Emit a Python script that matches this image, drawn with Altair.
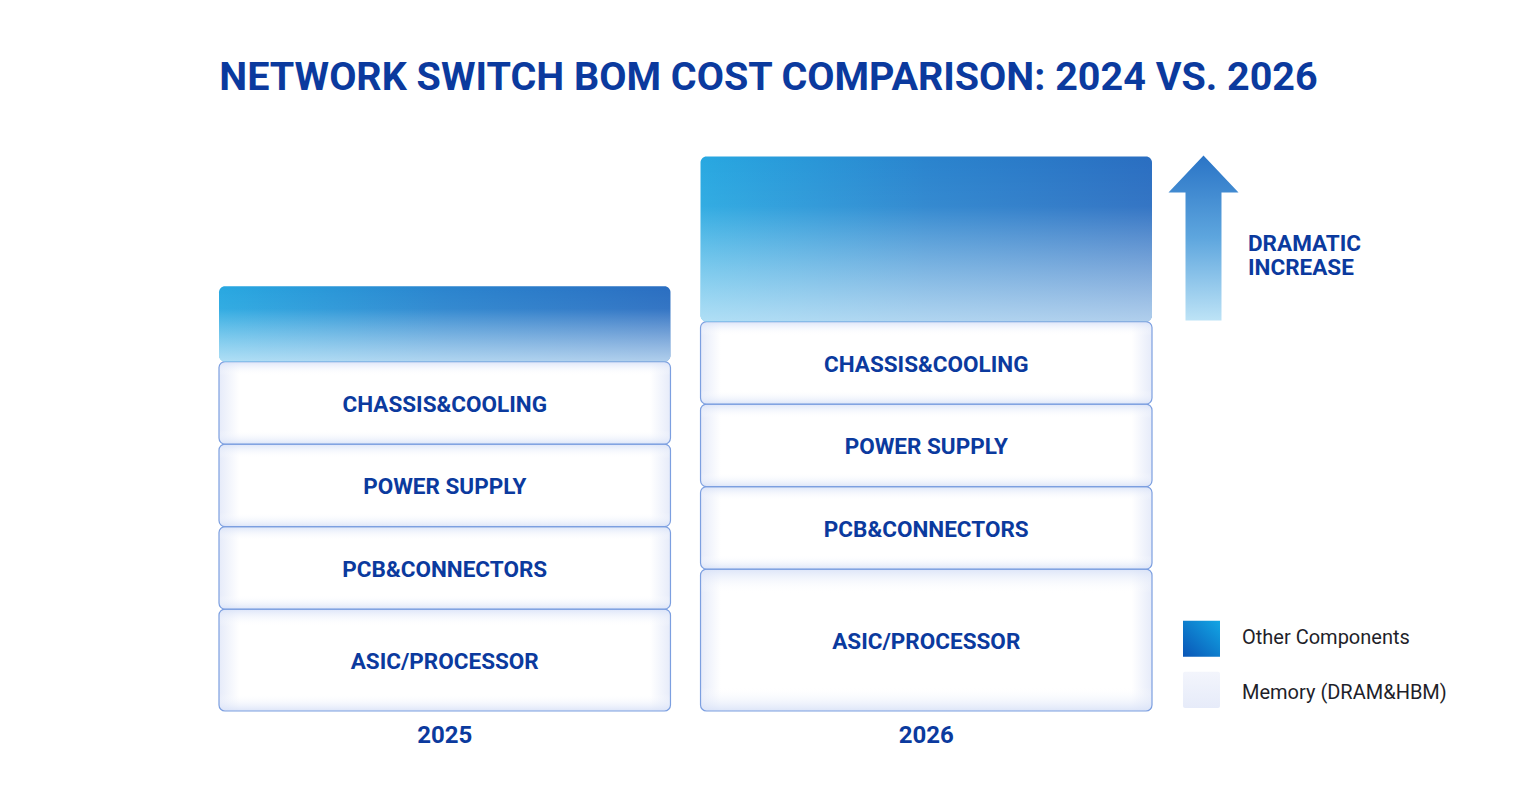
import altair as alt
import pandas as pd

# ---------------- data ----------------
years = ["2025", "2026"]
components = ["ASIC/PROCESSOR", "PCB&CONNECTORS", "POWER SUPPLY", "CHASSIS&COOLING", "OTHER"]
values_2025 = [24.7, 20, 20, 20, 18.3]
values_2026 = [34.4, 20, 20, 20, 40]
legend_labels = ["Other Components", "Memory (DRAM&HBM)"]
title_text = "NETWORK SWITCH BOM COST COMPARISON: 2024 VS. 2026"
arrow_label = ["DRAMATIC", "INCREASE"]

rows = []
for i, c in enumerate(components):
    rows.append({"year": years[0], "component": c, "value": values_2025[i], "order": i})
    rows.append({"year": years[1], "component": c, "value": values_2026[i], "order": i})
df = pd.DataFrame(rows)

# ---------------- style ----------------
BLUE = "#0b3a9e"
FONT = "Roboto"
PLOT_W = 933
PLOT_H = 603
PX_PER_UNIT = 4.125

y_scale = alt.Scale(domain=[0, PLOT_H / PX_PER_UNIT], nice=False, zero=True)
x_scale = alt.Scale(domain=years, paddingInner=0.0624, paddingOuter=0)
x_enc = alt.X(
    "year:N",
    scale=x_scale,
    axis=alt.Axis(title=None, domain=False, ticks=False, grid=False, labelAngle=0,
                  labelFont=FONT, labelFontSize=24, labelFontWeight="bold",
                  labelColor=BLUE, labelPadding=12),
)


def grad(x1, y1, x2, y2, stops):
    return alt.LinearGradient(
        gradient="linear", x1=x1, y1=y1, x2=x2, y2=y2,
        stops=[alt.GradientStop(offset=o, color=c) for o, c in stops],
    )


base = alt.Chart(df).transform_stack(
    stack="value", groupby=["year"],
    sort=[alt.SortField("order", order="ascending")], as_=["y0", "y1"],
).transform_calculate(ymid="(datum.y0 + datum.y1) / 2")

light = base.transform_filter("datum.component != 'OTHER'")
other = base.transform_filter("datum.component == 'OTHER'")

enc = dict(x=x_enc, y=alt.Y("y0:Q", scale=y_scale, axis=None), y2="y1:Q")

light_fill = light.mark_bar(
    cornerRadius=6,
    fill=grad(0, 0, 1, 0, [(0, "#e6ebf9"), (0.045, "#ffffff"), (0.955, "#ffffff"), (1, "#e6ebf9")]),
).encode(**enc)

light_overlay = light.mark_bar(
    cornerRadius=6, stroke="#7c9fe0", strokeWidth=1.2,
    fill=grad(0, 0, 0, 1, [(0, "rgba(214,224,247,0.85)"), (0.17, "rgba(255,255,255,0)"),
                           (0.83, "rgba(255,255,255,0)"), (1, "rgba(214,224,247,0.85)")]),
).encode(**enc)

other_fill = other.mark_bar(
    cornerRadius=6,
    fill=grad(0, 0, 1, 0, [(0, "#28a8e1"), (0.5, "#2a84ce"), (1, "#2a6ec1")]),
).encode(**enc)

other_overlay = other.mark_bar(
    cornerRadius=6,
    fill=grad(0, 0, 0, 1, [(0, "rgba(255,255,255,0)"), (0.3, "rgba(255,255,255,0.05)"),
                           (1, "rgba(228,244,253,0.72)")]),
).encode(**enc)

labels = light.mark_text(
    font=FONT, fontSize=22.5, fontWeight="bold", color=BLUE, baseline="middle", dy=2,
).encode(x=x_enc, y=alt.Y("ymid:Q", scale=y_scale, axis=None), text="component:N")

# ---------------- arrow + annotation ----------------
ARROW_PATH = ("M0,-2.357L1,-1.3L0.514,-1.3L0.514,2.357L-0.514,2.357"
              "L-0.514,-1.3L-1,-1.3Z")
one = pd.DataFrame({"k": [0]})
arrow = alt.Chart(one).mark_point(
    shape=ARROW_PATH, size=70 * 70, filled=True, opacity=1, strokeWidth=0,
    fill=grad(0, 0, 0, 1, [(0, "#2a74c6"), (0.5, "#5ea6de"), (1, "#bde3f6")]),
).encode(x=alt.value(984.5), y=alt.value(130))

arrow_text = alt.Chart(one).mark_text(
    font=FONT, fontSize=22.5, fontWeight="bold", color=BLUE, align="left",
    baseline="alphabetic", lineBreak="\n", lineHeight=23.5,
).encode(x=alt.value(1029), y=alt.value(143), text=alt.value("\n".join(arrow_label)))

# ---------------- legend ----------------
sw1 = alt.Chart(one).mark_rect(
    fill=grad(0, 1, 1, 0, [(0, "#0a55b6"), (1, "#12a6e4")]),
).encode(x=alt.value(964), x2=alt.value(1001), y=alt.value(512.7), y2=alt.value(548.7))

sw2 = alt.Chart(one).mark_rect(
    cornerRadius=2,
    fill=grad(0, 0, 0, 1, [(0, "#f3f5fc"), (1, "#e6ebf9")]),
).encode(x=alt.value(964), x2=alt.value(1001), y=alt.value(563.7), y2=alt.value(600))

leg1 = alt.Chart(one).mark_text(
    font=FONT, fontSize=20, color="#1f1f2a", align="left", baseline="alphabetic",
).encode(x=alt.value(1023), y=alt.value(536.3), text=alt.value(legend_labels[0]))

leg2 = alt.Chart(one).mark_text(
    font=FONT, fontSize=20, color="#1f1f2a", align="left", baseline="alphabetic",
).encode(x=alt.value(1023), y=alt.value(591), text=alt.value(legend_labels[1]))

chart = alt.layer(
    light_fill, light_overlay, other_fill, other_overlay, labels,
    arrow, arrow_text, sw1, sw2, leg1, leg2,
).properties(
    width=PLOT_W, height=PLOT_H,
    padding={"left": 211, "top": 100, "right": 376, "bottom": 62},
    autosize=alt.AutoSizeParams(type="none"),
    background="white",
    title=alt.Title(title_text, font=FONT, fontSize=39.5, fontWeight="bold", color=BLUE,
                    anchor="middle", frame="group", dx=83, offset=10),
).configure_view(stroke=None)

chart.save("out.html", embed_options={"renderer": "svg", "actions": False})
